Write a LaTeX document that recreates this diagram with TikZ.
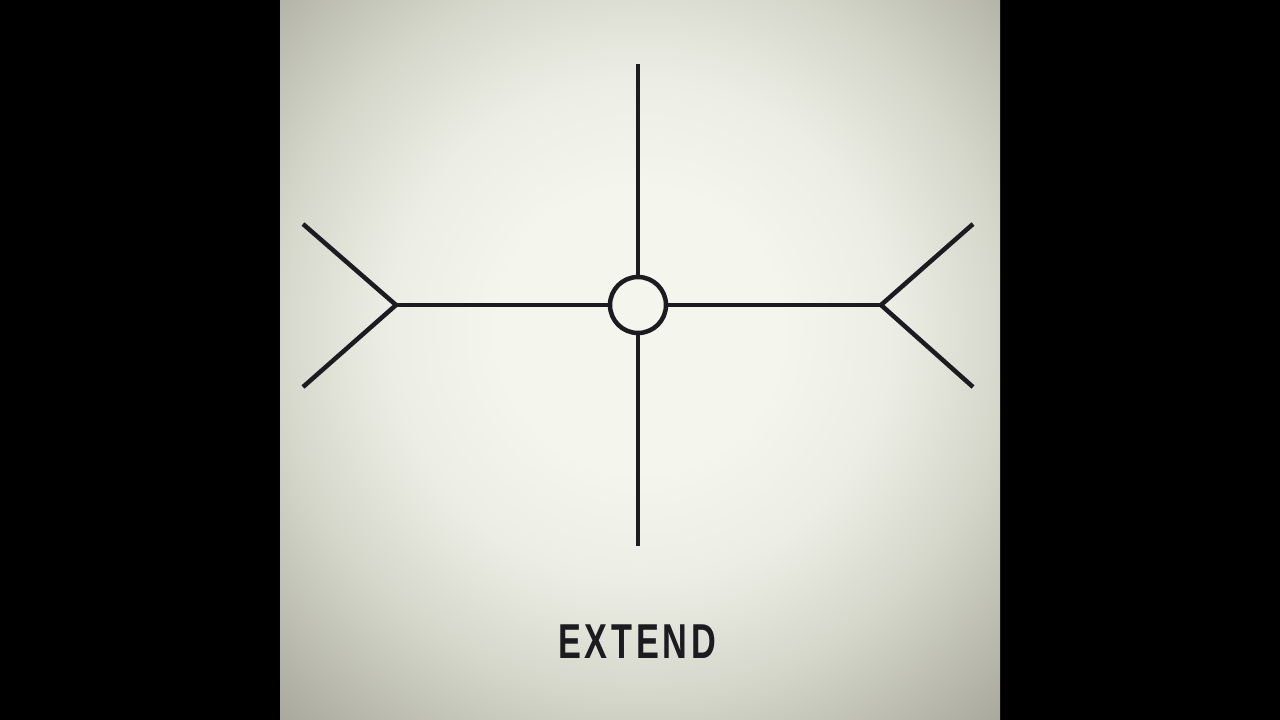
\documentclass[tikz,border=0pt]{standalone}
\usepackage{fontspec}
\setmainfont{Liberation Sans}
\newfontfamily\captionfont[LetterSpace=11]{Liberation Sans}
\usetikzlibrary{positioning}
\definecolor{paper}{HTML}{F4F5EC}
\definecolor{papermid}{HTML}{ECEDE4}
\definecolor{paperedge}{HTML}{D6D7CB}
\definecolor{papercorner}{HTML}{A8A89D}
\definecolor{ink}{HTML}{1B1B20}
\pgfdeclareradialshading{vignette}{\pgfpoint{0bp}{0bp}}{color(0bp)=(paper); color(140bp)=(paper); color(250bp)=(papermid); color(365bp)=(paperedge); color(530bp)=(papercorner); color(570bp)=(papercorner)}
\begin{document}
\begin{tikzpicture}[x=1pt,y=-1pt]
 \tikzstyle{stroke}=[draw=ink, line width=4.5pt]
 \tikzstyle{hubnode}=[circle, draw=ink, line width=4.5pt, minimum size=56pt, inner sep=0pt]
 \tikzstyle{title}=[text=ink, font=\captionfont\fontsize{49}{49}\selectfont\bfseries, xscale=0.7]

 % frame and panel
 \useasboundingbox (0,0) rectangle (1280,720);
 \fill[black] (0,0) rectangle (1280,720);
 \begin{scope}
  \clip (280,0) rectangle (1000,720);
  \node[inner sep=0pt] (glow) at (640,330) {\pgfuseshading{vignette}};
 \end{scope}

 % hub and arms
 \node[hubnode] (hub) at (638,305) {};
 \coordinate (top) at (638,64);
 \coordinate (bottom) at (638,546);
 \coordinate (lfork) at (396,305);
 \coordinate (rfork) at (881,305);
 \coordinate (lup) at (303,224);
 \coordinate (ldown) at (303,387);
 \coordinate (rup) at (973,224);
 \coordinate (rdown) at (973,387);

 \path[stroke] (hub) -- (top);
 \path[stroke] (hub) -- (bottom);
 \path[stroke] (hub) -- (lfork);
 \path[stroke] (hub) -- (rfork);
 \path[stroke, line join=miter] (lup) -- (lfork) -- (ldown);
 \path[stroke, line join=miter] (rup) -- (rfork) -- (rdown);

 % caption
 \node[title] (caption) at (637,642) {EXTEND};
\end{tikzpicture}
\end{document}
